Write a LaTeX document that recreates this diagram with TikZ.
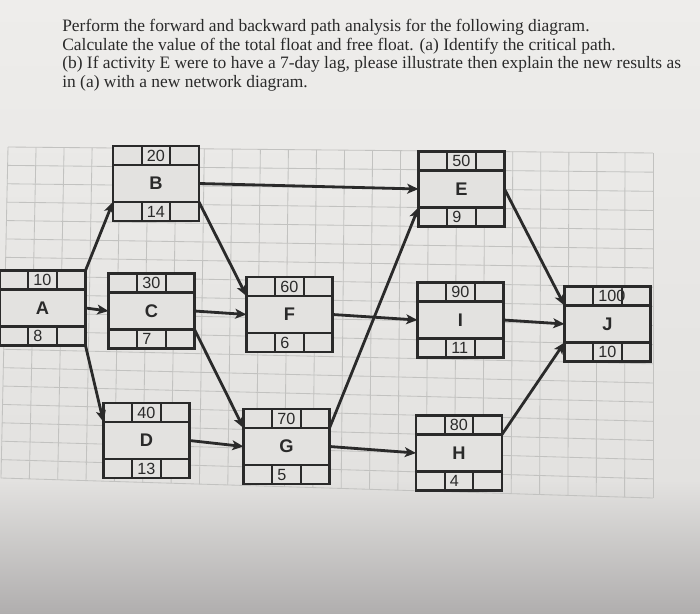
\documentclass[tikz,border=0pt]{standalone}
\usepackage{fontspec}
\setmainfont{Liberation Serif}
\setsansfont{Liberation Sans}
\usetikzlibrary{arrows.meta,calc}

\definecolor{paperlight}{RGB}{238,237,235}
\definecolor{paper}{RGB}{227,226,224}
\definecolor{paperdark}{RGB}{176,174,174}
\definecolor{ink}{RGB}{42,42,42}
\definecolor{gridgray}{RGB}{194,194,192}

\tikzset{
  actbox/.style={draw=ink, fill=paper, line width=1.6pt, minimum width=2.15cm,
    minimum height=1.875cm, inner sep=0pt, outer sep=0pt,
    font=\sffamily\bfseries\fontsize{13}{15}\selectfont, text=ink},
  boxline/.style={draw=ink, line width=1.6pt},
  numtext/.style={anchor=west, inner sep=0pt, font=\sffamily\fontsize{11.5}{12}\selectfont, text=ink},
  flow/.style={draw=ink, line width=2pt, -{Stealth[length=8pt,width=7pt,inset=2pt]}},
  gridrule/.style={draw=gridgray, line width=0.6pt}
}

% activity box: name, position, letter, number, duration
\newcommand{\activity}[5]{%
  \node[actbox] (#1) at (#2) {#3};
  \coordinate (#1-tl) at ($(#1.north west)+(0,19)$);
  \coordinate (#1-tr) at ($(#1.north east)+(0,19)$);
  \coordinate (#1-bl) at ($(#1.south west)+(0,-19)$);
  \coordinate (#1-br) at ($(#1.south east)+(0,-19)$);
  \draw[boxline] (#1-tl) -- (#1-tr) (#1-bl) -- (#1-br);
  \foreach \k in {1,2} {
    \draw[boxline] ($(#1.north west)!\k/3!(#1.north east)$) -- ($(#1-tl)!\k/3!(#1-tr)$);
    \draw[boxline] ($(#1.south west)!\k/3!(#1.south east)$) -- ($(#1-bl)!\k/3!(#1-br)$);
  }
  \node[numtext] at ($(#1.north west)!1/3!(#1.north east)+(5,9.5)$) {#4};
  \node[numtext] at ($(#1.south west)!1/3!(#1.south east)+(5,-9.5)$) {#5};
}

\begin{document}
\begin{tikzpicture}[x=0.025cm, y=-0.025cm]
\useasboundingbox (0,0) rectangle (700,614);
\shade[top color=paperlight, bottom color=paper] (0,0) rectangle (700,480);
\shade[top color=paper, bottom color=paperdark] (0,480) rectangle (700,614);

\node[anchor=north west, align=left, inner sep=0pt, text=ink,
  font=\fontsize{12.4}{13.2}\selectfont] (prompt) at (62,19)
  {Perform the forward and backward path analysis for the following diagram.\\
   Calculate the value of the total float and free float. (a) Identify the critical path.\\
   (b) If activity E were to have a 7-day lag, please illustrate then explain the new results as\\
   in (a) with a new network diagram.};

\coordinate (grid-tl) at (8,147);
\coordinate (grid-tr) at (653,153);
\coordinate (grid-bl) at (1,478);
\coordinate (grid-br) at (653,498);
\foreach \i in {0,...,23}
  \draw[gridrule] ($(grid-tl)!\i/23!(grid-tr)$) -- ($(grid-bl)!\i/23!(grid-br)$);
\foreach \j in {0,...,18}
  \draw[gridrule] ($(grid-tl)!\j/18!(grid-bl)$) -- ($(grid-tr)!\j/18!(grid-br)$);

\activity{A}{42.5,308}{A}{10}{8}
\activity{B}{156,183.5}{B}{20}{14}
\activity{C}{151.5,311}{C}{30}{7}
\activity{D}{146.5,440.5}{D}{40}{13}
\activity{E}{461.5,189}{E}{50}{9}
\activity{F}{289.5,314.5}{F}{60}{6}
\activity{G}{286.5,446.5}{G}{70}{5}
\activity{H}{459,453}{H}{80}{4}
\activity{I}{460.5,320}{I}{90}{11}
\activity{J}{607.5,324}{J}{100}{10}

\draw[flow] (A.north east) -- (B-bl);
\draw[flow] (A.east) -- (C.west);
\draw[flow] (A.south east) -- (D-tl);
\draw[flow] (B.east) -- (E.west);
\draw[flow] (B-br) -- (F-tl);
\draw[flow] (C.east) -- (F.west);
\draw[flow] (C-br) -- (G-tl);
\draw[flow] (D.east) -- (G.west);
\draw[flow] (G-tr) -- (E-bl);
\draw[flow] (F.east) -- (I.west);
\draw[flow] (G.east) -- (H.west);
\draw[flow] (E.east) -- (J-tl);
\draw[flow] (I.east) -- (J.west);
\draw[flow] (H-tr) -- (J-bl);
\end{tikzpicture}
\end{document}
